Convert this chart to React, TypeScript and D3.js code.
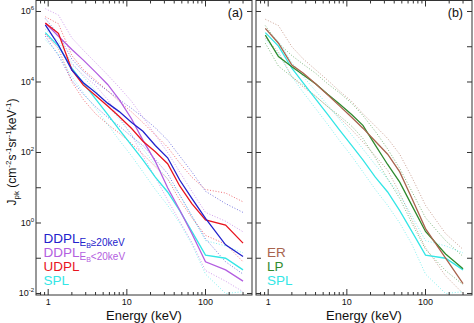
import React from "react";
import * as d3 from "d3";

// Energy channels (keV)
const energies = [0.92, 1.35, 2, 2.8, 4, 5.7, 8, 11.5, 16, 23, 33, 47, 67, 100, 180, 300];

// Panel (a) medians, log10 J
const ddplHighLog = [5.62, 5.05, 4.34, 3.98, 3.7, 3.4, 3.16, 2.85, 2.6, 2.2, 1.85, 1.22, 0.7, 0.13, -0.62, -0.95];
const ddplLowLog = [5.67, 5.3, 4.92, 4.62, 4.28, 3.93, 3.5, 2.95, 2.35, 1.75, 1.0, 0.37, -0.3, -1.1, -1.33, -1.65];
const udplLog = [5.67, 5.38, 4.34, 3.91, 3.62, 3.32, 3.02, 2.68, 2.32, 2.02, 1.68, 1.05, 0.55, 0.09, -0.06, -0.57];
const splLog = [5.4, 5.02, 4.39, 3.97, 3.52, 3.08, 2.65, 2.2, 1.79, 1.3, 0.88, 0.35, -0.24, -0.91, -1.0, -1.33];
// Panel (b) medians
const erLog = [5.52, 5.1, 4.48, 4.25, 3.95, 3.64, 3.33, 3.0, 2.69, 2.32, 1.95, 1.45, 0.7, -0.16, -1.0, -1.72];
const lpLog = [5.33, 4.72, 4.43, 4.2, 3.95, 3.65, 3.38, 3.08, 2.77, 2.21, 1.66, 1.16, 0.5, -0.24, -0.88, -1.3];

// Quartile-like bounds (dotted)
const ddplHighUp = [5.8, 5.35, 4.65, 4.3, 4.0, 3.75, 3.5, 3.25, 3.0, 2.7, 2.35, 1.9, 1.45, 0.9, 0.55, 0.3];
const ddplHighDn = [5.3, 4.75, 4.05, 3.65, 3.3, 3.0, 2.75, 2.45, 2.2, 1.8, 1.4, 0.8, 0.2, -0.45, -1.1, -1.45];
const ddplLowUp = [6.08, 5.9, 5.25, 4.9, 4.55, 4.2, 3.85, 3.45, 3.0, 2.5, 2.0, 1.45, 0.9, 0.3, 0.05, -0.25];
const ddplLowDn = [5.35, 5.0, 4.5, 4.2, 3.9, 3.5, 3.0, 2.5, 1.9, 1.3, 0.65, 0.05, -0.55, -1.35, -1.65, -1.95];
const udplUp = [5.85, 5.65, 4.75, 4.35, 4.05, 3.75, 3.45, 3.15, 2.85, 2.5, 2.15, 1.7, 1.3, 0.95, 0.85, 0.6];
const udplDn = [5.35, 4.95, 4.0, 3.5, 3.1, 2.8, 2.55, 2.25, 1.95, 1.6, 1.25, 0.65, 0.15, -0.35, -0.6, -1.1];
const splUp = [5.5, 5.15, 4.55, 4.15, 3.75, 3.35, 2.95, 2.5, 2.1, 1.65, 1.25, 0.8, 0.2, -0.5, -0.65, -0.85];
const splDn = [5.2, 4.8, 4.15, 3.7, 3.25, 2.8, 2.35, 1.9, 1.45, 0.95, 0.5, 0.0, -0.6, -1.45, -2.0, -1.95];
const erUp = [5.78, 5.6, 5.0, 4.65, 4.35, 4.05, 3.75, 3.45, 3.1, 2.75, 2.4, 1.95, 1.3, 0.5, -0.3, -0.75];
const erDn = [5.25, 4.85, 4.15, 3.85, 3.6, 3.3, 3.0, 2.65, 2.3, 1.9, 1.5, 0.85, 0.1, -0.7, -1.5, -2.0];
const lpUp = [5.6, 5.1, 4.75, 4.5, 4.25, 3.95, 3.7, 3.4, 3.05, 2.6, 2.1, 1.55, 0.9, 0.15, -0.5, -0.95];
const lpDn = [5.1, 4.45, 4.15, 3.9, 3.6, 3.3, 3.05, 2.75, 2.4, 1.85, 1.25, 0.7, 0.0, -0.75, -1.35, -1.75];

const yMajorExps = [-2, -1, 0, 1, 2, 3, 4, 5, 6];
const yLabelExps = ["6", "4", "2", "0", "-2"];
const xMajor = [1, 10, 100];
const xLabels = ["1", "10", "100"];
const xMinor = [0.8, 0.9, 2, 3, 4, 5, 6, 7, 8, 9, 20, 30, 40, 50, 60, 70, 80, 90, 200, 300];

const C = {
  blue: "#2222cc",
  purple: "#b35ee0",
  red: "#e8141e",
  cyan: "#33e6e6",
  brown: "#a8644e",
  green: "#2f8a2f",
};

const FONT = "'Liberation Sans', Arial, Helvetica, sans-serif";
const yTopPx = 0.5;
const yBotPx = 295;
const yScale = d3.scaleLog().domain([Math.pow(10, -2.043), Math.pow(10, 6.312)]).range([yBotPx, yTopPx]);

function Panel({ x0, x1, id, label, showYLabels, series }) {
  const x = d3.scaleLog().domain([0.7, 390]).range([x0, x1]);
  const line = d3
    .line<number>()
    .x((_, i) => x(energies[i]))
    .y((v) => yScale(Math.pow(10, v)));
  const frame = "#333";
  return (
    <g>
      <defs>
        <clipPath id={id}>
          <rect x={x0} y={yTopPx} width={x1 - x0} height={yBotPx - yTopPx} />
        </clipPath>
      </defs>
      <g clipPath={`url(#${id})`}>
        {series
          .filter((s) => s.dotted)
          .map((s, i) => (
            <path key={"d" + i} d={line(s.data) || ""} fill="none" stroke={s.color} strokeWidth={1}
              strokeDasharray="1 1.8" opacity={0.6} />
          ))}
        {series
          .filter((s) => !s.dotted)
          .map((s, i) => (
            <path key={"s" + i} d={line(s.data) || ""} fill="none" stroke={s.color} strokeWidth={1.3} />
          ))}
      </g>
      <rect x={x0} y={yTopPx} width={x1 - x0} height={yBotPx - yTopPx} fill="none" stroke={frame} strokeWidth={1} />
      {xMajor.map((v) => (
        <g key={"xm" + v}>
          <line x1={x(v)} x2={x(v)} y1={yBotPx} y2={yBotPx - 6} stroke={frame} />
          <line x1={x(v)} x2={x(v)} y1={yTopPx} y2={yTopPx + 6} stroke={frame} />
        </g>
      ))}
      {xMinor.map((v) => (
        <g key={"xn" + v}>
          <line x1={x(v)} x2={x(v)} y1={yBotPx} y2={yBotPx - 3} stroke={frame} />
          <line x1={x(v)} x2={x(v)} y1={yTopPx} y2={yTopPx + 3} stroke={frame} />
        </g>
      ))}
      {xMajor.map((v, i) => (
        <text key={"xl" + v} x={x(v)} y={305} textAnchor="middle" fontSize={9} fontFamily={FONT} fill="#111">
          {xLabels[i]}
        </text>
      ))}
      {yMajorExps.map((e) => {
        const yy = yScale(Math.pow(10, e));
        return (
          <g key={"ym" + e}>
            <line x1={x0} x2={x0 + 5} y1={yy} y2={yy} stroke={frame} />
            <line x1={x1} x2={x1 - 5} y1={yy} y2={yy} stroke={frame} />
          </g>
        );
      })}
      {showYLabels &&
        yLabelExps.map((e) => {
          const yy = yScale(Math.pow(10, +e));
          return (
            <text key={"yl" + e} x={x0 - 2} y={yy + 3} textAnchor="end" fontSize={9} fontFamily={FONT} fill="#111">
              10<tspan dy={-4} fontSize={6}>{e}</tspan>
            </text>
          );
        })}
      <text x={(x0 + x1) / 2} y={320} textAnchor="middle" fontSize={13} fontFamily={FONT} fill="#111">
        Energy (keV)
      </text>
      <text x={x1 - 9} y={17} textAnchor="end" fontSize={12.5} fontFamily={FONT} fill="#111">
        {label}
      </text>
    </g>
  );
}

export default function App() {
  const seriesA = [
    { data: ddplLowUp, color: C.purple, dotted: true },
    { data: ddplLowDn, color: C.purple, dotted: true },
    { data: udplUp, color: C.red, dotted: true },
    { data: udplDn, color: C.red, dotted: true },
    { data: ddplHighUp, color: C.blue, dotted: true },
    { data: ddplHighDn, color: C.blue, dotted: true },
    { data: splUp, color: C.cyan, dotted: true },
    { data: splDn, color: C.cyan, dotted: true },
    { data: splLog, color: C.cyan },
    { data: ddplLowLog, color: C.purple },
    { data: udplLog, color: C.red },
    { data: ddplHighLog, color: C.blue },
  ];
  const seriesB = [
    { data: erUp, color: C.brown, dotted: true },
    { data: erDn, color: C.brown, dotted: true },
    { data: lpUp, color: C.green, dotted: true },
    { data: lpDn, color: C.green, dotted: true },
    { data: splUp, color: C.cyan, dotted: true },
    { data: splDn, color: C.cyan, dotted: true },
    { data: splLog, color: C.cyan },
    { data: lpLog, color: C.green },
    { data: erLog, color: C.brown },
  ];
  return (
    <svg width={474} height={323} style={{ position: "absolute", left: 0, top: 0, background: "#fff" }}>
      <rect x={0} y={0} width={474} height={323} fill="#fff" />
      <Panel x0={36} x1={252} id="clipA" label="(a)" showYLabels={true} series={seriesA} />
      <Panel x0={256} x1={472} id="clipB" label="(b)" showYLabels={false} series={seriesB} />
      <text transform="translate(16,152) rotate(-90)" textAnchor="middle" fontSize={12} fontFamily={FONT} fill="#111">
        J<tspan dy={3} fontSize={8}>pk</tspan>
        <tspan dy={-3}> (cm</tspan>
        <tspan dy={-5} fontSize={8}>-2</tspan>
        <tspan dy={5}>s</tspan>
        <tspan dy={-5} fontSize={8}>-1</tspan>
        <tspan dy={5}>sr</tspan>
        <tspan dy={-5} fontSize={8}>-1</tspan>
        <tspan dy={5}>keV</tspan>
        <tspan dy={-5} fontSize={8}>-1</tspan>
        <tspan dy={5}>)</tspan>
      </text>
      <g fontFamily={FONT}>
        <text x={43.5} y={243} fontSize={13.5} fill={C.blue}>
          DDPL<tspan dy={3} fontSize={10}>E</tspan>
          <tspan dy={2} fontSize={7}>B</tspan>
          <tspan dy={-2} fontSize={10}>≥20keV</tspan>
        </text>
        <text x={43.5} y={257} fontSize={13.5} fill={C.purple}>
          DDPL<tspan dy={3} fontSize={10}>E</tspan>
          <tspan dy={2} fontSize={7}>B</tspan>
          <tspan dy={-2} fontSize={10}>&lt;20keV</tspan>
        </text>
        <text x={43.5} y={271} fontSize={13.5} fill={C.red}>UDPL</text>
        <text x={43.5} y={285} fontSize={13.5} fill={C.cyan}>SPL</text>
        <text x={267} y={257} fontSize={13.5} fill={C.brown}>ER</text>
        <text x={267} y={271} fontSize={13.5} fill={C.green}>LP</text>
        <text x={267} y={285} fontSize={13.5} fill={C.cyan}>SPL</text>
      </g>
    </svg>
  );
}
